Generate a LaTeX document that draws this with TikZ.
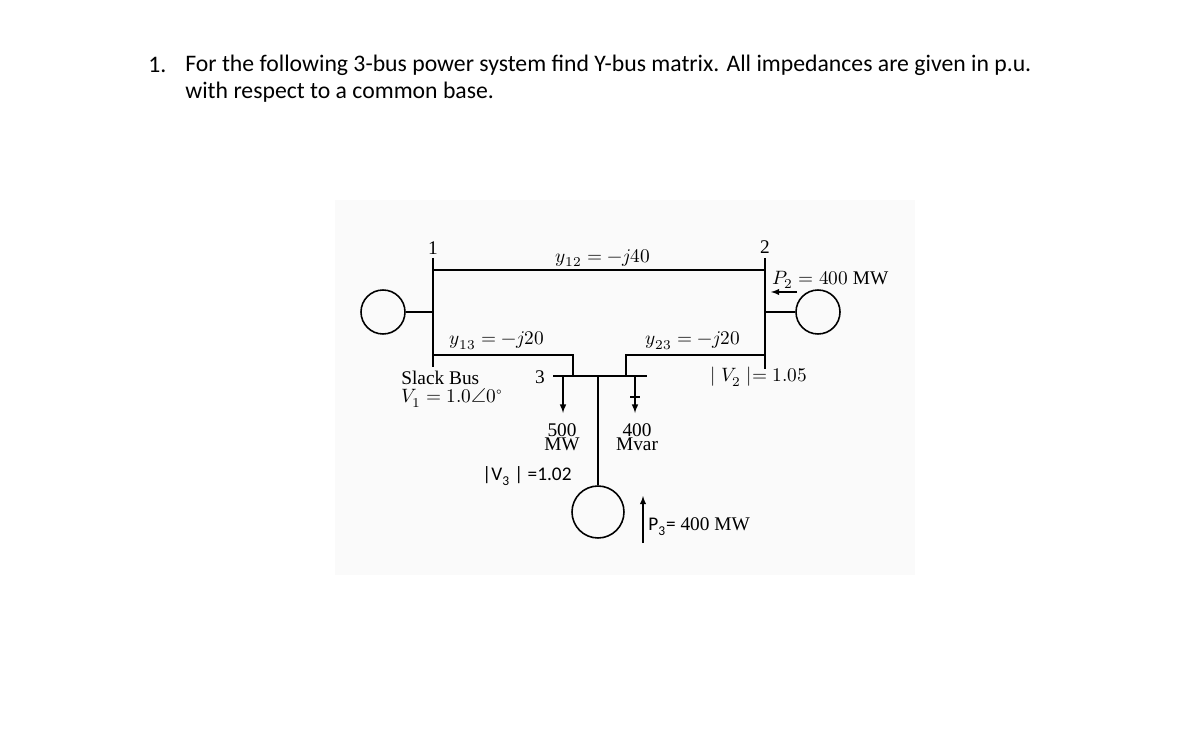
\documentclass[tikz,border=0pt]{standalone}
\usepackage{fontspec}
\usepackage{amssymb}
\newfontfamily\calib{Carlito}
\setmainfont{Liberation Serif}
\usepackage{unicode-math}
\begin{document}
\begin{tikzpicture}[x=0.02cm,y=-0.02cm,
  ln/.style={line width=0.9pt},
  gen/.style={circle,draw,line width=0.9pt,inner sep=0pt},
  lbl/.style={font=\fontsize{11pt}{8pt}\selectfont,inner sep=0pt},
  hdr/.style={font=\calib\fontsize{13.5pt}{14pt}\selectfont,inner sep=0pt,anchor=west}]
\useasboundingbox (0,0) rectangle (1199,739);
\fill[gray!4] (335,200) rectangle (915,575);
\node[hdr] (h1) at (148,65) {1.};
\node[hdr] (h2) at (185,65) {For the following 3-bus power system find Y-bus matrix. All impedances are given in p.u.};
\node[hdr] (h3) at (185,92) {with respect to a common base.};
% buses
\coordinate (b1t) at (433,258); \coordinate (b1b) at (433,367);
\coordinate (b2t) at (765,258); \coordinate (b2b) at (765,369);
\draw[ln] (b1t) -- (b1b); \draw[ln] (b2t) -- (b2b);
\node[lbl] (n1) at (433,248) {1};
\node[lbl] (n2) at (765,247) {2};
\coordinate (l12a) at (433,270); \coordinate (l12b) at (765,270);
\draw[ln] (l12a) -- (l12b);
\node[lbl] (y12) at (603,258) {$y_{12}=-j40$};
% generators 1,2
\node[gen,minimum size=0.88cm] (g1) at (383,312) {};
\coordinate (c1) at (433,312);
\draw[ln] (g1.east) -- (c1);
\node[gen,minimum size=0.88cm] (g2) at (818,312) {};
\coordinate (c2) at (765,312);
\draw[ln] (c2) -- (g2.west);
\node[lbl,anchor=west] (p2) at (772,280) {$P_2=400$ MW};
\coordinate (a2s) at (797,292); \coordinate (a2e) at (771,292);
\draw[line width=0.6pt,-latex] (a2s) -- (a2e);
% lines 13, 23
\coordinate (l13a) at (433,355); \coordinate (l13b) at (573,355); \coordinate (l13c) at (573,376);
\draw[ln] (l13a) -- (l13b) -- (l13c);
\node[lbl] (y13) at (497,341) {$y_{13}=-j20$};
\coordinate (l23a) at (765,355); \coordinate (l23b) at (626,355); \coordinate (l23c) at (626,376);
\draw[ln] (l23a) -- (l23b) -- (l23c);
\node[lbl] (y23) at (693,341) {$y_{23}=-j20$};
% bus 3
\coordinate (b3l) at (553,376); \coordinate (b3r) at (647,376);
\draw[ln] (b3l) -- (b3r);
\node[lbl] (n3) at (540,377) {3};
\node[lbl,anchor=north west,align=left] (slack) at (401,371) {Slack Bus\\[1pt]$V_1=1.0\angle 0^\circ$};
\node[lbl] (v2) at (759,377) {$\mid V_2\mid= 1.05$};
% loads
\coordinate (ld1s) at (563,376); \coordinate (ld1e) at (563,413);
\draw[line width=0.7pt,-latex] (ld1s) -- (ld1e);
\node[lbl,align=center] (ld1) at (562,437) {500\\MW};
\coordinate (ld2s) at (635,376); \coordinate (ld2e) at (635,413);
\draw[line width=0.7pt,-latex] (ld2s) -- (ld2e);
\coordinate (tk1) at (630,397); \coordinate (tk2) at (640,397);
\draw[line width=0.6pt] (tk1) -- (tk2);
\node[lbl,align=center] (ld2) at (637,437) {400\\Mvar};
% generator 3
\node[gen,minimum size=1.04cm] (g3) at (598,512) {};
\coordinate (c3) at (598,376);
\draw[ln] (c3) -- (g3.north);
\node[font=\calib\fontsize{11pt}{10pt}\selectfont,inner sep=0pt] (v3) at (527,476) {|V\textsubscript{3} | =1.02};
\coordinate (a3s) at (643,543); \coordinate (a3e) at (643,496);
\draw[line width=0.6pt,-latex] (a3s) -- (a3e);
\node[lbl,anchor=west] (p3) at (648,527) {{\calib P\textsubscript{3}=} 400 MW};
\end{tikzpicture}
\end{document}
